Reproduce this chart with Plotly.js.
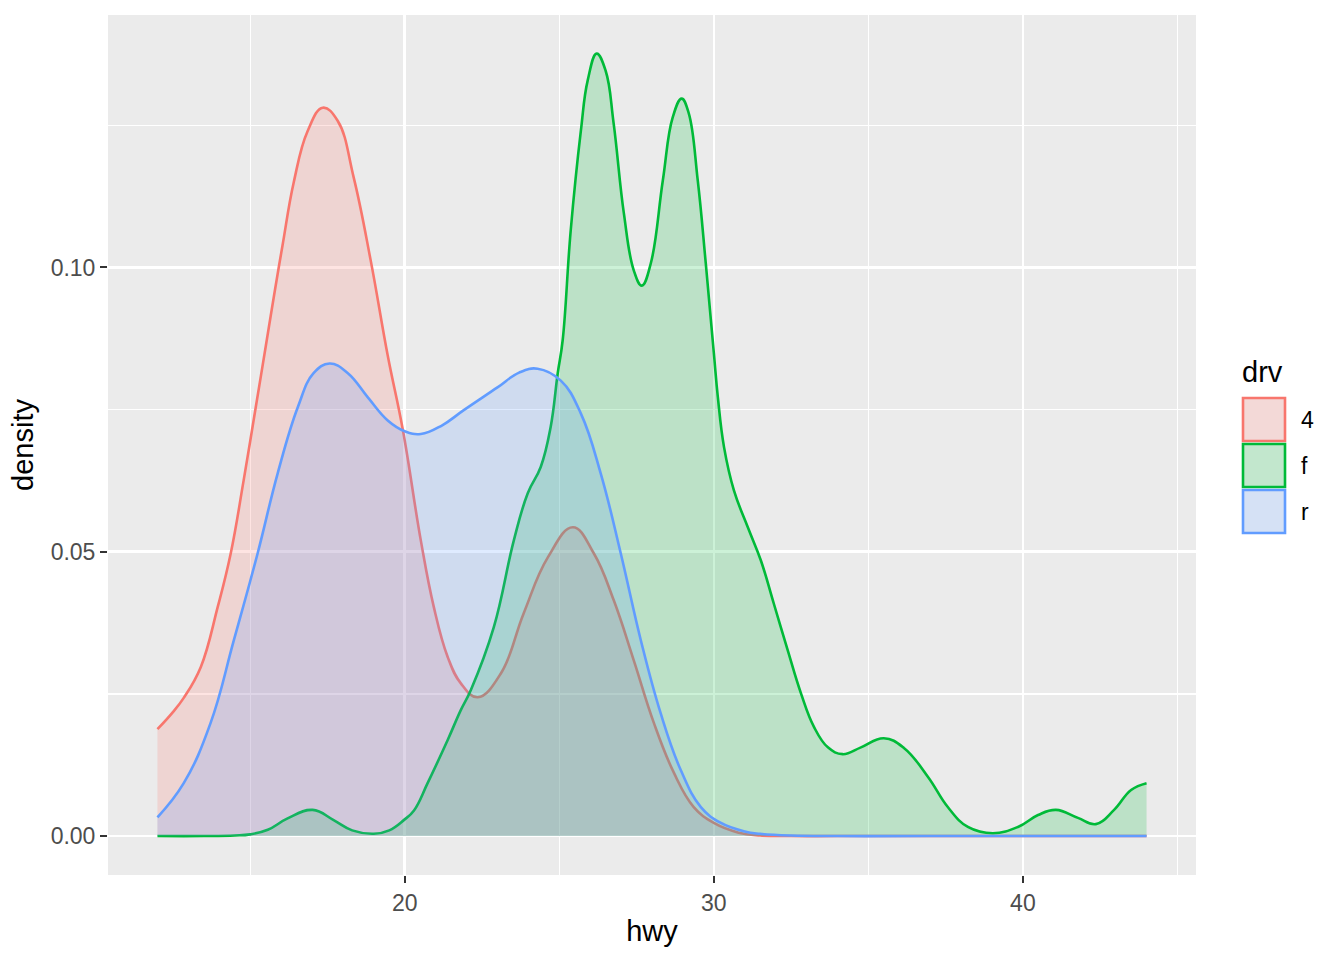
<!DOCTYPE html>
<html>
<head>
<meta charset="utf-8">
<script src="https://cdn.plot.ly/plotly-3.0.1.min.js"></script>
<style>html,body{margin:0;padding:0;background:#fff;}#chart{width:1344px;height:960px;}</style>
</head>
<body>
<div id="chart"></div>
<script>
// Legend / group names
const groups = ["4", "f", "r"];
const lineColors = ["#F8766D", "#00BA38", "#619CFF"];
const fillColors = ["rgba(248,118,109,0.2)", "rgba(0,186,56,0.2)", "rgba(97,156,255,0.2)"];
const keyFills = ["rgb(243,217,215)", "rgb(194,231,205)", "rgb(213,225,245)"];

// Density of hwy for drv = "4"
const hwy4 = [12.0, 12.5, 12.85, 13.4, 13.95, 14.37, 14.79, 15.18, 15.5, 15.8, 16.05, 16.41, 16.86, 17.35, 17.83, 18.35, 18.9, 19.45, 19.94, 20.52, 20.94, 21.39, 21.81, 22.36, 23.11, 23.85, 24.63, 25.44, 26.12, 26.76, 27.41, 28.06, 28.71, 29.35, 30.0, 30.8, 31.5, 32.5, 34.0, 37.0, 40.0, 44.0];
const dens4 = [0.0188, 0.0218, 0.0243, 0.0297, 0.0403, 0.0497, 0.0626, 0.0754, 0.0860, 0.0960, 0.1040, 0.1150, 0.1240, 0.1281, 0.1258, 0.1158, 0.1012, 0.0845, 0.0714, 0.0520, 0.0403, 0.0315, 0.0269, 0.0244, 0.0286, 0.0392, 0.0490, 0.0543, 0.0497, 0.0415, 0.0309, 0.0199, 0.0111, 0.0051, 0.0023, 0.0006, 0.0001, 0.0, 0.0, 0.0, 0.0, 0.0];

// Density of hwy for drv = "f"
const hwyF = [12.0, 13.5, 14.5, 15.0, 15.57, 16.21, 17.02, 17.7, 18.3, 19.0, 19.5, 19.97, 20.3, 20.74, 21.39, 21.81, 22.14, 22.88, 23.53, 23.98, 24.4, 24.72, 24.95, 25.11, 25.37, 25.7, 25.92, 26.21, 26.5, 26.76, 27.09, 27.41, 27.67, 27.96, 28.35, 28.67, 28.96, 29.19, 29.48, 29.74, 30.0, 30.13, 30.33, 30.65, 31.1, 31.52, 31.94, 32.39, 32.82, 33.24, 33.69, 34.17, 34.76, 35.5, 36.15, 36.93, 37.57, 38.22, 39.03, 39.84, 40.49, 41.07, 41.78, 42.36, 42.95, 43.5, 44.0];
const densF = [0.0, 0.0, 0.0001, 0.0003, 0.0011, 0.0031, 0.0046, 0.0028, 0.0010, 0.0004, 0.0010, 0.0028, 0.0045, 0.0093, 0.0169, 0.0221, 0.0257, 0.0367, 0.0520, 0.0603, 0.0649, 0.0719, 0.0814, 0.0872, 0.1065, 0.1241, 0.1329, 0.1376, 0.1346, 0.1253, 0.1095, 0.0995, 0.0968, 0.1007, 0.1153, 0.1264, 0.1297, 0.1271, 0.1153, 0.1007, 0.0850, 0.0772, 0.0684, 0.0608, 0.0543, 0.0485, 0.0409, 0.0327, 0.0251, 0.0192, 0.0156, 0.0144, 0.0156, 0.0172, 0.0155, 0.0104, 0.0051, 0.0016, 0.0005, 0.0016, 0.0037, 0.0046, 0.0032, 0.0021, 0.0046, 0.0081, 0.0093];

// Density of hwy for drv = "r"
const hwyR = [12.0, 12.85, 13.72, 14.47, 15.24, 15.89, 16.54, 17.05, 17.57, 18.16, 18.8, 19.45, 20.0, 20.52, 21.2, 21.91, 23.0, 23.7, 24.3, 25.05, 25.7, 26.34, 26.99, 27.64, 28.28, 28.93, 29.58, 30.23, 31.0, 31.5, 32.5, 34.0, 37.0, 40.0, 44.0];
const densR = [0.0033, 0.0093, 0.0199, 0.0344, 0.0497, 0.0638, 0.0754, 0.0814, 0.0831, 0.0814, 0.0772, 0.0731, 0.0712, 0.0707, 0.0722, 0.0749, 0.0789, 0.0815, 0.0822, 0.0801, 0.0743, 0.0638, 0.0497, 0.0344, 0.0216, 0.0116, 0.0051, 0.0023, 0.0008, 0.0004, 0.0001, 0.0, 0.0, 0.0, 0.0];

const xTicks = [20, 30, 40];
const yTicks = [0.00, 0.05, 0.10];
const yTickText = ["0.00", "0.05", "0.10"];

const xs = [hwy4, hwyF, hwyR];
const ys = [dens4, densF, densR];

const FONT = "Liberation Sans, Arial, Helvetica, sans-serif";

const traces = groups.map((g, i) => ({
  type: "scatter",
  mode: "lines",
  name: g,
  x: xs[i],
  y: ys[i],
  fill: "tozeroy",
  fillcolor: fillColors[i],
  line: {color: lineColors[i], width: 2.6, shape: "spline", smoothing: 1.2},
  hoverinfo: "skip",
  showlegend: false
}));

// Manual ggplot-style legend
const shapes = [];
const annotations = [];
const keyTop = [398, 444, 490];
const keyH = 43;
const toPX = px => (px - 108) / 1088;
const toPY = py => (875 - py) / 860;
groups.forEach((g, i) => {
  shapes.push({
    type: "rect", xref: "paper", yref: "paper",
    x0: toPX(1243), x1: toPX(1285),
    y0: toPY(keyTop[i] + keyH), y1: toPY(keyTop[i]),
    fillcolor: keyFills[i],
    line: {color: lineColors[i], width: 2.6}
  });
  annotations.push({
    xref: "paper", yref: "paper",
    x: toPX(1299), y: toPY(keyTop[i] + keyH / 2),
    xanchor: "left", yanchor: "middle",
    text: g, showarrow: false,
    font: {family: FONT, size: 23, color: "#000000"}
  });
});
annotations.push({
  xref: "paper", yref: "paper",
  x: toPX(1240), y: toPY(372),
  xanchor: "left", yanchor: "middle",
  text: "drv", showarrow: false,
  font: {family: FONT, size: 29, color: "#000000"}
});

const layout = {
  width: 1344, height: 960,
  paper_bgcolor: "#FFFFFF",
  plot_bgcolor: "#EBEBEB",
  margin: {l: 108, r: 148, t: 15, b: 85, pad: 0},
  font: {family: FONT},
  showlegend: false,
  xaxis: {
    range: [10.4, 45.6],
    tickmode: "array", tickvals: xTicks, ticktext: xTicks.map(String),
    ticks: "outside", ticklen: 7, tickwidth: 2, tickcolor: "#333333",
    tickfont: {family: FONT, size: 23, color: "#4D4D4D"},
    showgrid: true, gridcolor: "#FFFFFF", gridwidth: 2.6,
    minor: {tickmode: "array", tickvals: [15, 25, 35, 45], showgrid: true, gridcolor: "#FFFFFF", gridwidth: 1.3, ticks: ""},
    zeroline: false, showline: false,
    title: {text: "hwy", font: {family: FONT, size: 29, color: "#000000"}, standoff: 6},
    automargin: false
  },
  yaxis: {
    range: [-0.00685, 0.1444],
    tickmode: "array", tickvals: yTicks, ticktext: yTickText,
    ticks: "outside", ticklen: 7, tickwidth: 2, tickcolor: "#333333",
    tickfont: {family: FONT, size: 23, color: "#4D4D4D"},
    showgrid: true, gridcolor: "#FFFFFF", gridwidth: 2.6,
    minor: {tickmode: "array", tickvals: [0.025, 0.075, 0.125], showgrid: true, gridcolor: "#FFFFFF", gridwidth: 1.3, ticks: ""},
    zeroline: false, showline: false,
    title: {text: "density", font: {family: FONT, size: 29, color: "#000000"}, standoff: 8},
    automargin: false
  },
  shapes: shapes,
  annotations: annotations
};

Plotly.newPlot("chart", traces, layout, {displayModeBar: false, staticPlot: true});
</script>
</body>
</html>
